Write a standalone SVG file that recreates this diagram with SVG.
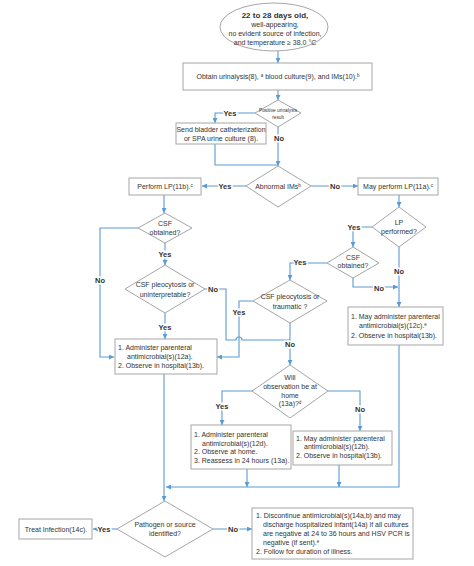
<svg xmlns="http://www.w3.org/2000/svg" width="474" height="566" viewBox="0 0 474 566">
<defs>
<marker id="ah" viewBox="0 0 6 6" refX="6" refY="3" markerWidth="5" markerHeight="5" markerUnits="userSpaceOnUse" orient="auto"><path d="M0,0 L6,3 L0,6 z" fill="#5b9bd5"/></marker>
</defs>
<style>
.box{fill:#fff;stroke:#a6a6a6;stroke-width:1}
.dia{fill:#fff;stroke:#a6a6a6;stroke-width:1}
.ln{fill:none;stroke:#5b9bd5;stroke-width:1.1}
.ar{marker-end:url(#ah)}
text{font-family:"Liberation Sans",Arial,sans-serif;fill:#333;font-size:7px}
.c{text-anchor:middle}
.b{font-weight:bold}
.lb{font-size:7.5px;font-weight:bold;text-anchor:middle;stroke:#fff;stroke-width:3;paint-order:stroke}
.sup{font-size:4.5px}
.tiny{font-size:4.8px}
</style>
<rect width="474" height="566" fill="#fff"/>

<g id="connectors">
<path class="ln ar" d="M278,51 V63"/>
<path class="ln ar" d="M278,90 V100"/>
<path class="ln ar" d="M255,113 H215 V123"/>
<path class="ln ar" d="M278,127 V166"/>
<path class="ln" d="M215,144 V165 H278"/>
<path class="ln ar" d="M246,186 H202"/>
<path class="ln ar" d="M311,186 H358"/>
<path class="ln ar" d="M164,195 V213"/>
<path class="ln ar" d="M138,228 H100 V357 H114"/>
<path class="ln ar" d="M165,243 V265"/>
<path class="ln ar" d="M165,313 V339"/>
<path class="ln" d="M205,289 H226 V340 H236 a3,3 0 0 1 6,0 H290"/>
<path class="ln ar" d="M253,301 H239 V357 H217"/>
<path class="ln ar" d="M327,263 H290 V280"/>
<path class="ln ar" d="M353,278 V287 H398"/>
<path class="ln ar" d="M372,227 H353 V247"/>
<path class="ln ar" d="M399,247 V307"/>
<path class="ln ar" d="M399,195 V207"/>
<path class="ln ar" d="M290,323 V365"/>
<path class="ln ar" d="M253,391 H222 V425"/>
<path class="ln ar" d="M328,391 H360 V431"/>
<path class="ln ar" d="M247,469 V487"/>
<path class="ln ar" d="M339,465 V487"/>
<path class="ln ar" d="M399,345 V487 H166"/>
<path class="ln ar" d="M164,374 V501"/>
<path class="ln ar" d="M117,529 H93"/>
<path class="ln ar" d="M213,529 H252"/>
<text class="lb" x="230" y="116">Yes</text>
<text class="lb" x="279" y="141">No</text>
<text class="lb" x="225" y="189">Yes</text>
<text class="lb" x="335" y="189">No</text>
<text class="lb" x="100" y="283">No</text>
<text class="lb" x="165" y="257">Yes</text>
<text class="lb" x="165" y="330">Yes</text>
<text class="lb" x="213" y="292">No</text>
<text class="lb" x="239" y="315">Yes</text>
<text class="lb" x="300" y="265">Yes</text>
<text class="lb" x="379" y="291">No</text>
<text class="lb" x="354" y="230">Yes</text>
<text class="lb" x="399" y="274">No</text>
<text class="lb" x="290" y="347">No</text>
<text class="lb" x="222" y="409">Yes</text>
<text class="lb" x="360" y="412">No</text>
<text class="lb" x="104" y="532">Yes</text>
<text class="lb" x="233" y="532">No</text>
</g>

<g id="start">
<ellipse cx="274" cy="27" rx="54" ry="24" class="box"/>
<text class="c b" x="275" y="18" style="font-size:8px">22 to 28 days old,</text>
<text class="c" x="275" y="27">well-appearing,</text>
<text class="c" x="275" y="36">no evident source of infection,</text>
<text class="c" x="275" y="45">and temperature ≥ 38.0 °C</text>
</g>

<g id="obtain">
<rect class="box" x="183" y="63" width="189" height="27"/>
<text class="c" x="278" y="79">Obtain urinalysis(8), <tspan class="sup" dy="-2.5">a</tspan><tspan dy="2.5"> blood culture(9), and IMs(10).</tspan><tspan class="sup" dy="-2.5">b</tspan></text>
</g>

<g id="positive">
<polygon class="dia" points="278,100 301,113 278,127 255,113"/>
<text class="c tiny" x="278" y="112">Positive urinalysis</text>
<text class="c tiny" x="278" y="119">result</text>
</g>

<g id="send">
<rect class="box" x="176" y="123" width="90" height="21"/>
<text class="c" x="221" y="132">Send bladder catheterization</text>
<text class="c" x="221" y="141">or SPA urine culture (8).</text>
</g>

<g id="abnormal">
<polygon class="dia" points="278,166 311,186 278,207 246,186"/>
<text class="c" x="278" y="189">Abnormal IMs<tspan class="sup" dy="-2.5">b</tspan></text>
</g>

<g id="performLP">
<rect class="box" x="129" y="178" width="72" height="17"/>
<text class="c" x="165" y="189">Perform LP(11b).<tspan class="sup" dy="-2.5">c</tspan></text>
</g>

<g id="mayPerformLP">
<rect class="box" x="358" y="178" width="80" height="17"/>
<text class="c" x="398" y="189">May perform LP(11a).<tspan class="sup" dy="-2.5">c</tspan></text>
</g>

<g id="csfObtainedL">
<polygon class="dia" points="165,213 192,228 165,243 138,228"/>
<text class="c" x="165" y="226">CSF</text>
<text class="c" x="165" y="235">obtained?</text>
</g>

<g id="pleoL">
<polygon class="dia" points="165,265 205,289 165,313 125,289"/>
<text class="c" x="165" y="287">CSF pleocytosis or</text>
<text class="c" x="165" y="297">uninterpretable?</text>
</g>

<g id="admin12a">
<rect class="box" x="115" y="339" width="102" height="35"/>
<text x="118" y="350">1. Administer parenteral</text>
<text x="127" y="359">antimicrobial(s)(12a).</text>
<text x="118" y="368">2. Observe in hospital(13b).</text>
</g>

<g id="lpPerformed">
<polygon class="dia" points="399,207 426,227 399,247 372,227"/>
<text class="c" x="399" y="225">LP</text>
<text class="c" x="399" y="234">performed?</text>
</g>

<g id="csfObtainedR">
<polygon class="dia" points="353,247 379,263 353,278 327,263"/>
<text class="c" x="353" y="260">CSF</text>
<text class="c" x="353" y="268">obtained?</text>
</g>

<g id="traumatic">
<polygon class="dia" points="290,280 327,301 290,323 253,301"/>
<text class="c" x="290" y="299">CSF pleocytosis or</text>
<text class="c" x="290" y="309">traumatic ?</text>
</g>

<g id="admin12c">
<rect class="box" x="348" y="307" width="95" height="38"/>
<text x="351" y="319">1. May administer parenteral</text>
<text x="359" y="328">antimicrobial(s)(12c).<tspan class="sup" dy="-2.5">e</tspan></text>
<text x="351" y="338">2. Observe in hospital(13b).</text>
</g>

<g id="willObserve">
<polygon class="dia" points="290,365 328,391 290,418 252,391"/>
<text class="c" x="290" y="380">Will</text>
<text class="c" x="290" y="389">observation be at</text>
<text class="c" x="290" y="398">home</text>
<text class="c" x="290" y="406">(13a)?<tspan class="sup" dy="-2.5">d</tspan></text>
</g>

<g id="admin12d">
<rect class="box" x="191" y="425" width="100" height="44"/>
<text x="194" y="437">1. Administer parenteral</text>
<text x="202" y="446">antimicrobial(s)(12d).</text>
<text x="194" y="454">2. Observe at home.</text>
<text x="194" y="463">3. Reassess in 24 hours (13a).</text>
</g>

<g id="admin12b">
<rect class="box" x="293" y="431" width="99" height="34"/>
<text x="296" y="441">1. May administer parenteral</text>
<text x="304" y="449">antimicrobial(s)(12b).</text>
<text x="296" y="458">2. Observe in hospital(13b).</text>
</g>

<g id="pathogen">
<polygon class="dia" points="165,501 213,529 165,557 117,529"/>
<text class="c" x="165" y="527">Pathogen or source</text>
<text class="c" x="165" y="536">identified?</text>
</g>

<g id="treat">
<rect class="box" x="19" y="519" width="73" height="20"/>
<text class="c" x="56" y="532">Treat Infection(14c).</text>
</g>

<g id="discontinue">
<rect class="box" x="252" y="508" width="161" height="51"/>
<text x="256" y="518">1. Discontinue antimicrobial(s)(14a,b) and may</text>
<text x="263" y="527">discharge hospitalized infant(14a) if all cultures</text>
<text x="263" y="536">are negative at 24 to 36 hours and HSV PCR is</text>
<text x="263" y="545">negative (if sent).<tspan class="sup" dy="-2.5">e</tspan></text>
<text x="256" y="554">2. Follow for duration of illness.</text>
</g>
</svg>
